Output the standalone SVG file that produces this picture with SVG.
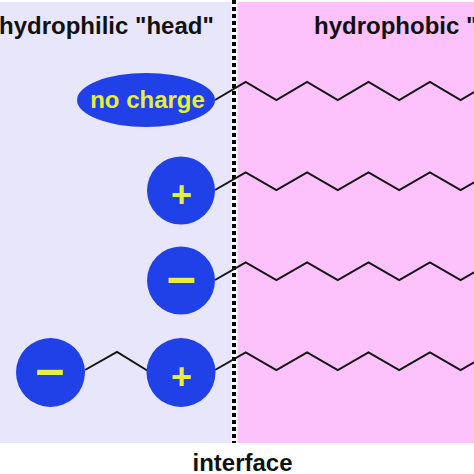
<svg xmlns="http://www.w3.org/2000/svg" width="474" height="474" viewBox="0 0 474 474">
<style>
.lbl{font-family:"Liberation Sans",Arial,sans-serif;font-weight:bold;font-size:24px;fill:#111}
.head{fill:#2040e8}
.sym{font-family:"Liberation Sans",Arial,sans-serif;font-weight:bold;fill:#e4f03a;text-anchor:middle}
.chain{fill:none;stroke:#151515;stroke-width:2;stroke-linejoin:miter}
</style>
<rect width="474" height="474" fill="#ffffff"/>
<rect id="hydrophilic-region" x="0" y="2" width="232" height="441" fill="#e8e6fb"/>
<rect id="hydrophobic-region" x="237" y="2" width="237" height="441" fill="#fdc2fb"/>
<g id="interface-line">
<rect x="231.5" y="0" width="6" height="443" fill="#ffffff"/>
<line x1="234" y1="0" x2="234" y2="443" stroke="#000" stroke-width="4" stroke-dasharray="4 3"/>
</g>
<text class="lbl" x="-1" y="34">hydrophilic "head"</text>
<text class="lbl" x="314" y="34">hydrophobic "tail"</text>
<text class="lbl" x="242.5" y="471" text-anchor="middle">interface</text>
<g id="connectors">
<polyline class="chain" points="215,100 245.7,82 276.4,100 307.1,82 337.8,100 368.5,82 399.2,100 429.9,82 460.6,100 491.3,82"/>
<polyline class="chain" points="215,190 245.7,172.5 276.4,190 307.1,172.5 337.8,190 368.5,172.5 399.2,190 429.9,172.5 460.6,190 491.3,172.5"/>
<polyline class="chain" points="215,280 245.7,262.5 276.4,280 307.1,262.5 337.8,280 368.5,262.5 399.2,280 429.9,262.5 460.6,280 491.3,262.5"/>
<polyline class="chain" points="215,370 245.7,352.5 276.4,370 307.1,352.5 337.8,370 368.5,352.5 399.2,370 429.9,352.5 460.6,370 491.3,352.5"/>
<polyline class="chain" points="85,370 117,352 148,371"/>
</g>
<g id="node-nocharge">
<ellipse class="head" cx="146" cy="100" rx="69" ry="27"/>
<text class="sym" x="147.5" y="108" font-size="24">no charge</text>
</g>
<g id="node-cation">
<circle class="head" cx="181" cy="190.5" r="34"/>
<text class="sym" x="181.5" y="206.5" font-size="36">+</text>
</g>
<g id="node-anion">
<circle class="head" cx="181" cy="280.5" r="34"/>
<text class="sym" x="181.5" y="293.5" font-size="52">–</text>
</g>
<g id="node-zwitterion-minus">
<circle class="head" cx="50.5" cy="372.5" r="34.5"/>
<text class="sym" x="50" y="385.5" font-size="52">–</text>
</g>
<g id="node-zwitterion-plus">
<circle class="head" cx="181" cy="372.5" r="34.5"/>
<text class="sym" x="181.5" y="388.5" font-size="36">+</text>
</g>
</svg>
